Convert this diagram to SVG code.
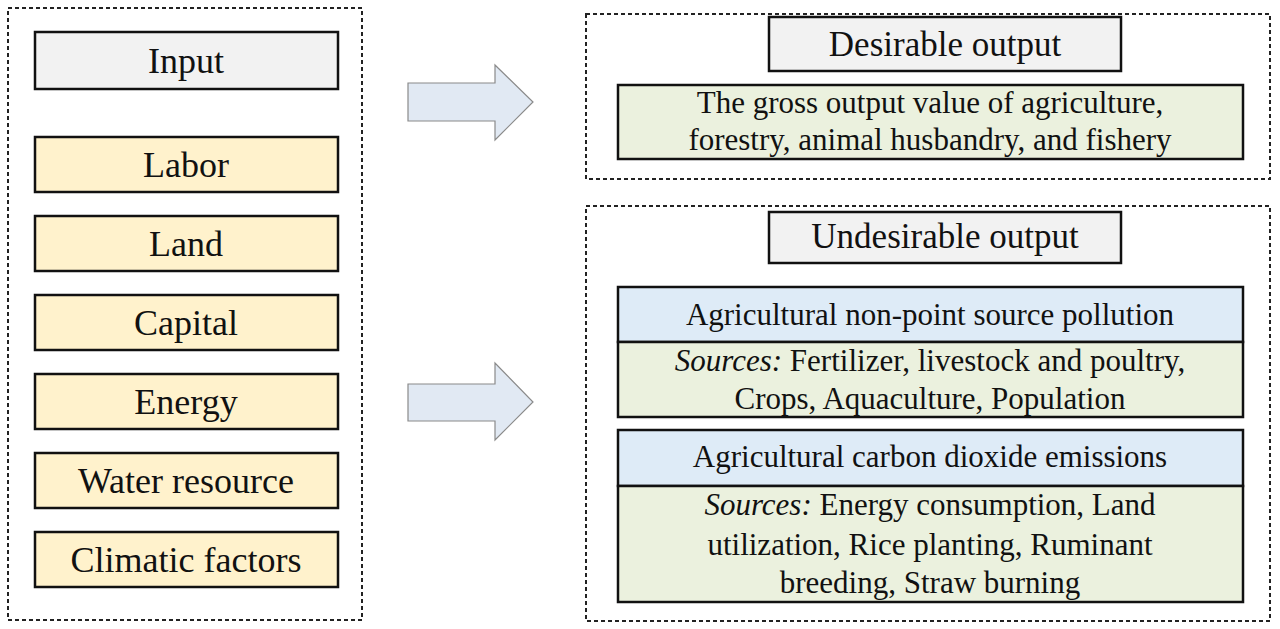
<svg xmlns="http://www.w3.org/2000/svg" width="1280" height="629" viewBox="0 0 1280 629">
<style>
.d{fill:none;stroke:#222;stroke-width:2;stroke-dasharray:4,3}
.b{stroke:#111;stroke-width:2.5}
.g{fill:#f2f2f2}.y{fill:#fff2cc}.gr{fill:#ebf1de}.bl{fill:#deebf7}
text{fill:#111;text-anchor:middle}
.l{font-size:36px}.t{font-size:35px}.s{font-size:31px}
.ar{fill:#e1e9f3;stroke:#8a8a8a;stroke-width:1.2}
</style>
<rect width="1280" height="629" fill="#fff"/>
<g font-family="'Liberation Serif', 'Times New Roman', Tinos, serif">
<g id="input-panel">
<rect class="d" x="8" y="8" width="354" height="612"/>
<g id="input"><rect class="b g" x="35" y="32" width="303" height="57"/><text class="l" x="186" y="73">Input</text></g>
<g id="labor"><rect class="b y" x="35" y="137" width="303" height="55"/><text class="l" x="186" y="177">Labor</text></g>
<g id="land"><rect class="b y" x="35" y="216" width="303" height="55"/><text class="l" x="186" y="256">Land</text></g>
<g id="capital"><rect class="b y" x="35" y="295" width="303" height="55"/><text class="l" x="186" y="335">Capital</text></g>
<g id="energy"><rect class="b y" x="35" y="374" width="303" height="55"/><text class="l" x="186" y="414">Energy</text></g>
<g id="water"><rect class="b y" x="35" y="453" width="303" height="55"/><text class="l" x="186" y="493">Water resource</text></g>
<g id="climatic"><rect class="b y" x="35" y="532" width="303" height="55"/><text class="l" x="186" y="572">Climatic factors</text></g>
</g>
<g id="connectors">
<polygon class="ar" points="408,83 495,83 495,65 533,102 495,140 495,121 408,121"/>
<polygon class="ar" points="408,384 495,384 495,363 533,402 495,440 495,421 408,421"/>
</g>
<g id="desirable-panel">
<rect class="d" x="586" y="14" width="684" height="165"/>
<g id="desirable"><rect class="b g" x="769" y="17" width="352" height="54"/><text class="t" x="945" y="56">Desirable output</text></g>
<g id="gross"><rect class="b gr" x="618" y="85" width="625" height="74"/>
<text class="s" x="930" y="113">The gross output value of agriculture,</text>
<text class="s" x="930" y="150">forestry, animal husbandry, and fishery</text></g>
</g>
<g id="undesirable-panel">
<rect class="d" x="586" y="206" width="684" height="415"/>
<g id="undesirable"><rect class="b g" x="769" y="212" width="352" height="51"/><text class="t" x="945" y="248">Undesirable output</text></g>
<g id="nps"><rect class="b bl" x="618" y="287" width="625" height="55"/><text class="s" x="930" y="325">Agricultural non-point source pollution</text></g>
<g id="nps-src"><rect class="b gr" x="618" y="342" width="625" height="75"/>
<text class="s" x="930" y="371"><tspan font-style="italic">Sources:</tspan> Fertilizer, livestock and poultry,</text>
<text class="s" x="930" y="409">Crops, Aquaculture, Population</text></g>
<g id="co2"><rect class="b bl" x="618" y="430" width="625" height="56"/><text class="s" x="930" y="467">Agricultural carbon dioxide emissions</text></g>
<g id="co2-src"><rect class="b gr" x="618" y="486" width="625" height="116"/>
<text class="s" x="930" y="515"><tspan font-style="italic">Sources:</tspan> Energy consumption, Land</text>
<text class="s" x="930" y="555">utilization, Rice planting, Ruminant</text>
<text class="s" x="930" y="593">breeding, Straw burning</text></g>
</g>
</g>
</svg>
